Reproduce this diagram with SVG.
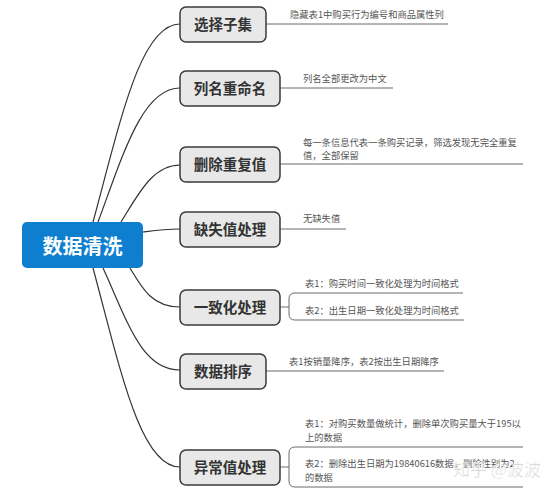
<svg xmlns="http://www.w3.org/2000/svg" width="554" height="492" viewBox="0 0 554 492">
<style>
.bg{fill:#ffffff}
.root{fill:#0e7fcf}
.rootT{font-family:"Noto Sans CJK SC","Noto Sans",sans-serif;font-size:20px;font-weight:bold;fill:#ffffff;text-anchor:middle}
.node{fill:#e8e8e8;stroke:#3a3a3a;stroke-width:1.5}
.nodeT{font-family:"Noto Sans CJK SC","Noto Sans",sans-serif;font-size:14.5px;font-weight:bold;fill:#333333;text-anchor:middle}
.curve{fill:none;stroke:#333333;stroke-width:1.2}
.rule{fill:none;stroke:#6a6a6a;stroke-width:1}
.lbl{font-family:"Noto Sans CJK SC","Noto Sans",sans-serif;font-size:9.3px;fill:#555555}
.wm{font-family:"Noto Sans CJK SC","Noto Sans",sans-serif;font-size:17px;fill:#c4c4c4;stroke:#ffffff;stroke-width:0.6;opacity:0.9}
</style>
<rect class="bg" x="0" y="0" width="554" height="492"/>
<g id="connectors">
<path class="curve" d="M93,222 C120,123 140,24 180,24"/>
<path class="curve" d="M98,222 C123,155 142,88 180,88"/>
<path class="curve" d="M121,222 C139,193 153,165 180,165"/>
<path class="curve" d="M143,232 C154,230.5 163,229 180,229"/>
<path class="curve" d="M130,268 C142,288 152,307 180,307"/>
<path class="curve" d="M103,268 C127,320 141,370 180,370"/>
<path class="curve" d="M93,268 C120,368 140,467 180,467"/>
<path class="rule" d="M266,24 H448"/>
<path class="rule" d="M280,88 H393"/>
<path class="rule" d="M280,164 H523"/>
<path class="rule" d="M280,229 H346"/>
<path class="rule" d="M280,307 H289"/>
<path class="rule" d="M463,293 H295 Q289,293 289,299 V314 Q289,320 295,320 H464"/>
<path class="rule" d="M266,371 H444"/>
<path class="rule" d="M280,467 H289"/>
<path class="rule" d="M523,447 H295 Q289,447 289,453 V481 Q289,487 295,487 H523"/>
</g>
<g id="root">
<rect class="root" x="22" y="222" width="121" height="46" rx="5"/>
<text class="rootT" x="82.5" y="254">数据清洗</text>
</g>
<g id="n1">
<rect class="node" x="180" y="7" width="86" height="35" rx="6"/>
<text class="nodeT" x="223" y="29.5">选择子集</text>
<text class="lbl" x="290" y="17.5">隐藏表1中购买行为编号和商品属性列</text>
</g>
<g id="n2">
<rect class="node" x="180" y="71" width="100" height="35" rx="6"/>
<text class="nodeT" x="230" y="93.5">列名重命名</text>
<text class="lbl" x="303" y="81.5">列名全部更改为中文</text>
</g>
<g id="n3">
<rect class="node" x="180" y="147" width="100" height="35" rx="6"/>
<text class="nodeT" x="230" y="169.5">删除重复值</text>
<text class="lbl" x="303" y="145.5">每一条信息代表一条购买记录，筛选发现无完全重复</text>
<text class="lbl" x="303" y="159">值，全部保留</text>
</g>
<g id="n4">
<rect class="node" x="180" y="212" width="100" height="35" rx="6"/>
<text class="nodeT" x="230" y="234.5">缺失值处理</text>
<text class="lbl" x="303" y="221.5">无缺失值</text>
</g>
<g id="n5">
<rect class="node" x="180" y="290" width="100" height="35" rx="6"/>
<text class="nodeT" x="230" y="312.5">一致化处理</text>
<text class="lbl" x="305" y="286.5">表1：购买时间一致化处理为时间格式</text>
<text class="lbl" x="305" y="313.5">表2：出生日期一致化处理为时间格式</text>
</g>
<g id="n6">
<rect class="node" x="180" y="354" width="86" height="35" rx="6"/>
<text class="nodeT" x="223" y="376.5">数据排序</text>
<text class="lbl" x="289" y="364.5">表1按销量降序，表2按出生日期降序</text>
</g>
<g id="n7">
<rect class="node" x="180" y="450" width="100" height="35" rx="6"/>
<text class="nodeT" x="230" y="472.5">异常值处理</text>
<text class="lbl" x="305" y="427">表1：对购买数量做统计，删除单次购买量大于195以</text>
<text class="lbl" x="305" y="440.5">上的数据</text>
<text class="lbl" x="305" y="467">表2：删除出生日期为19840616数据，删除性别为2</text>
<text class="lbl" x="305" y="480.5">的数据</text>
</g>
<text class="wm" x="453" y="476">知乎 @波波</text>
</svg>
